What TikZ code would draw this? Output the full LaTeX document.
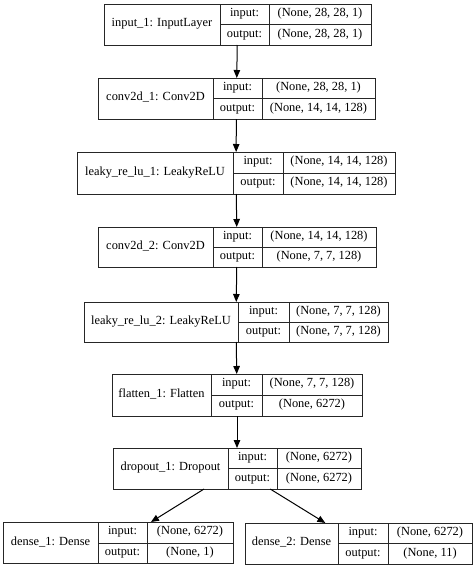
\documentclass[tikz,border=0pt]{standalone}
\usepackage{fontspec}
\setmainfont{Liberation Serif}
\usetikzlibrary{arrows.meta,fit}
\tikzset{
  box/.style={draw=black!85, line width=1pt, inner sep=0pt, outer sep=0pt},
  txt/.style={inner sep=0pt, font=\fontsize{12.4}{14}\selectfont, text height=0.68em, text depth=0.2em, anchor=center},
  divider/.style={draw=black!85, line width=1pt},
  conn/.style={draw=black, line width=1pt, -{Triangle[length=8pt,width=6.5pt]}}
}
% #1 id, #2 x0, #3 xa, #4 xb, #5 x1, #6 y0, #7 ym, #8 y1, #9 name
\newcommand\layerbox[9]{%
  \def\lid{#1}\def\lxo{#2}\def\lxa{#3}\def\lxb{#4}\def\lxi{#5}%
  \def\lyo{#6}\def\lym{#7}\def\lyi{#8}\def\lname{#9}%
  \layerboxB}
\newcommand\layerboxB[2]{%
  \node[box, fit={(\lxo,\lyo) (\lxi,\lyi)}] (\lid) {};
  \draw[divider] (\lxa,\lyo) -- (\lxa,\lyi);
  \draw[divider] (\lxb,\lyo) -- (\lxb,\lyi);
  \draw[divider] (\lxa,\lym) -- (\lxi,\lym);
  \node[txt] (\lid-name) at ({(\lxo+\lxa)/2},\lym) {\lname};
  \node[txt] (\lid-il) at ({(\lxa+\lxb)/2},{(\lyo+\lym)/2}) {input:};
  \node[txt] (\lid-iv) at ({(\lxb+\lxi)/2},{(\lyo+\lym)/2}) {#1};
  \node[txt] (\lid-ol) at ({(\lxa+\lxb)/2},{(\lym+\lyi)/2}) {output:};
  \node[txt] (\lid-ov) at ({(\lxb+\lxi)/2},{(\lym+\lyi)/2}) {#2};
}
\begin{document}
\begin{tikzpicture}[x=1pt,y=-1pt]
  \useasboundingbox[fill=white] (0,0) rectangle (474,568);
  \layerbox{b1}{104}{220}{269}{371}{4}{24.5}{45}{input\_1: InputLayer}{(None, 28, 28, 1)}{(None, 28, 28, 1)}
  \layerbox{b2}{98}{213}{262}{375}{78}{98.5}{119}{conv2d\_1: Conv2D}{(None, 28, 28, 1)}{(None, 14, 14, 128)}
  \layerbox{b3}{77}{233}{283}{395}{152}{173}{194}{leaky\_re\_lu\_1: LeakyReLU}{(None, 14, 14, 128)}{(None, 14, 14, 128)}
  \layerbox{b4}{98}{213}{262}{376}{227}{247}{267}{conv2d\_2: Conv2D}{(None, 14, 14, 128)}{(None, 7, 7, 128)}
  \layerbox{b5}{84}{238}{289}{388}{302}{322}{342}{leaky\_re\_lu\_2: LeakyReLU}{(None, 7, 7, 128)}{(None, 7, 7, 128)}
  \layerbox{b6}{112}{211}{262}{362}{374}{395}{416}{flatten\_1: Flatten}{(None, 7, 7, 128)}{(None, 6272)}
  \layerbox{b7}{113}{228}{277}{361}{448}{468.5}{489}{dropout\_1: Dropout}{(None, 6272)}{(None, 6272)}
  \layerbox{b8}{3}{98}{147}{233}{522}{543}{563}{dense\_1: Dense}{(None, 6272)}{(None, 1)}
  \layerbox{b9}{245}{338}{388}{472}{523}{543.5}{564}{dense\_2: Dense}{(None, 6272)}{(None, 11)}
  \draw[conn] (b1) -- (b2);
  \draw[conn] (b2) -- (b3);
  \draw[conn] (b3) -- (b4);
  \draw[conn] (b4) -- (b5);
  \draw[conn] (b5) -- (b6);
  \draw[conn] (b6) -- (b7);
  \draw[conn] (b7) -- (b8);
  \draw[conn] (b7) -- (b9);
\end{tikzpicture}
\end{document}
